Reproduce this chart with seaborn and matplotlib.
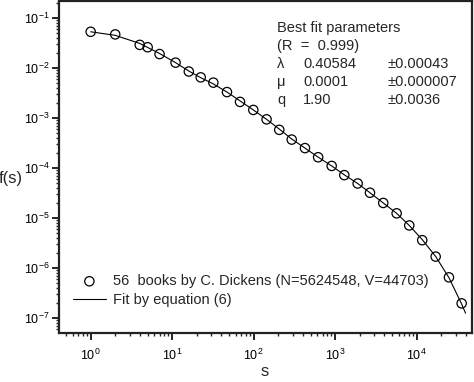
import numpy as np
import pandas as pd
import matplotlib
matplotlib.use("Agg")
import matplotlib.pyplot as plt
import seaborn as sns
from matplotlib.ticker import FixedLocator, NullFormatter, LogFormatterSciNotation

# data
s_vals = [1, 2, 4, 5, 7, 11, 16, 22.4, 32, 47, 68, 99, 144, 206, 293, 426, 618, 906,
          1294, 1888, 2673, 3890, 5680, 8110, 11700, 17100, 24900, 35650]
f_vals = [0.053, 0.047, 0.029, 0.026, 0.019, 0.0128, 0.0085, 0.0065, 0.0051, 0.0033,
          0.0021, 0.00145, 0.00094, 0.00058, 0.00037, 0.00025, 0.000164, 0.000110,
          7.2e-5, 4.9e-5, 3.2e-5, 2.0e-5, 1.24e-5, 7.1e-6, 3.6e-6, 1.69e-6, 6.5e-7, 1.96e-7]

fit_s = [1, 2, 4, 7, 11, 16, 22.4, 32, 47, 68, 99, 144, 206, 293, 426, 618, 906,
         1294, 1888, 2673, 3890, 5680, 8110, 11700, 17100, 24900, 35650, 39800]
fit_f = [0.053, 0.045, 0.031, 0.0195, 0.0128, 0.0087, 0.0064, 0.0048, 0.0033,
         0.0022, 0.00145, 0.00094, 0.00060, 0.00038, 0.00025, 0.000165, 0.000110,
         7.3e-5, 4.9e-5, 3.2e-5, 2.0e-5, 1.24e-5, 7.1e-6, 3.7e-6, 1.7e-6, 6.4e-7, 1.9e-7, 1.25e-7]

x_tick_exps = [0, 1, 2, 3, 4]
y_tick_exps = [-7, -6, -5, -4, -3, -2, -1]

data_label = "56  books by C. Dickens (N=5624548, V=44703)"
fit_label = "Fit by equation (6)"
param_title = "Best fit parameters"
param_r = "(R  =  0.999)"
param_names = ["λ", "μ", "q"]
param_values = ["0.40584", "0.0001", "1.90"]
param_errors = ["±0.00043", "±0.000007", "±0.0036"]

sns.set_style("ticks")
plt.rcParams['font.family'] = ['Liberation Sans', 'DejaVu Sans']
plt.rcParams['mathtext.fontset'] = 'custom'
plt.rcParams['mathtext.rm'] = 'Liberation Sans'
plt.rcParams['mathtext.it'] = 'Liberation Sans'
plt.rcParams['mathtext.default'] = 'regular'

W, H = 474, 382
fig = plt.figure(figsize=(W / 100, H / 100), dpi=100)
ax = fig.add_axes([58.5 / W, 1 - 333 / H, (472 - 58.5) / W, (333 - 1) / H])

df = pd.DataFrame({"s": s_vals, "f": f_vals})
dfit = pd.DataFrame({"s": fit_s, "f": fit_f})

sns.lineplot(data=dfit, x="s", y="f", ax=ax, color="black", linewidth=0.8,
             label=fit_label, sort=True, estimator=None)
sns.scatterplot(data=df, x="s", y="f", ax=ax, marker="o", s=45,
                facecolor="none", edgecolor="black", linewidth=0.9,
                label=data_label, zorder=3)

ax.set_xscale("log")
ax.set_yscale("log")
xlo, xhi = 10 ** -0.395, 10 ** 4.679
ylo, yhi = 10 ** -7.3, 10 ** -0.66
ax.set_xlim(xlo, xhi)
ax.set_ylim(ylo, yhi)

def minor_vals(lo, hi):
    out = []
    for k in range(int(np.floor(np.log10(lo))) - 1, int(np.ceil(np.log10(hi))) + 1):
        for m in range(2, 10):
            v = m * 10.0 ** k
            if lo <= v <= hi:
                out.append(v)
    return out

ax.xaxis.set_major_locator(FixedLocator([10.0 ** k for k in x_tick_exps]))
ax.yaxis.set_major_locator(FixedLocator([10.0 ** k for k in y_tick_exps]))
ax.xaxis.set_minor_locator(FixedLocator(minor_vals(xlo, xhi)))
ax.yaxis.set_minor_locator(FixedLocator(minor_vals(ylo, yhi)))
ax.xaxis.set_major_formatter(LogFormatterSciNotation())
ax.yaxis.set_major_formatter(LogFormatterSciNotation())
ax.xaxis.set_minor_formatter(NullFormatter())
ax.yaxis.set_minor_formatter(NullFormatter())

ax.tick_params(axis="both", which="major", direction="out", length=5, width=1.2,
               labelsize=9, colors="black")
ax.tick_params(axis="y", which="major", pad=1.5)
ax.tick_params(axis="x", which="major", pad=6)
ax.tick_params(axis="both", which="minor", direction="out", length=2.5, width=1.0)
for sp in ax.spines.values():
    sp.set_linewidth(1.6)
    sp.set_color("#222222")

ax.set_xlabel("")
ax.set_ylabel("")
ax.xaxis.label.set_visible(False)
ax.yaxis.label.set_visible(False)
fig.text(11 / W, 1 - 178 / H, "f(s)", fontsize=12, ha="center", va="center")
fig.text(265 / W, 1 - 372 / H, "s", fontsize=12, ha="center", va="center")

handles, labels = ax.get_legend_handles_labels()
order = [labels.index(data_label), labels.index(fit_label)]
ax.legend([handles[i] for i in order], [labels[i] for i in order],
          loc="upper left", bbox_to_anchor=(0.02, 0.195), frameon=False,
          fontsize=10.5, handlelength=2.3, handletextpad=0.5,
          labelspacing=0.35, borderaxespad=0)

def fx(px):
    return px / W

def fy(py):
    return 1 - py / H

fs = 10.5
fig.text(fx(277), fy(32), param_title, fontsize=fs, va="baseline")
fig.text(fx(277), fy(50), param_r, fontsize=fs, va="baseline")
for i, (n, v, e) in enumerate(zip(param_names, param_values, param_errors)):
    yb = 68 + 18 * i
    fig.text(fx(277), fy(yb), n, fontsize=fs, va="baseline")
    fig.text(fx(303), fy(yb), v, fontsize=fs, va="baseline")
    fig.text(fx(388), fy(yb), e, fontsize=fs, va="baseline")

fig.savefig("out.png", dpi=100)
